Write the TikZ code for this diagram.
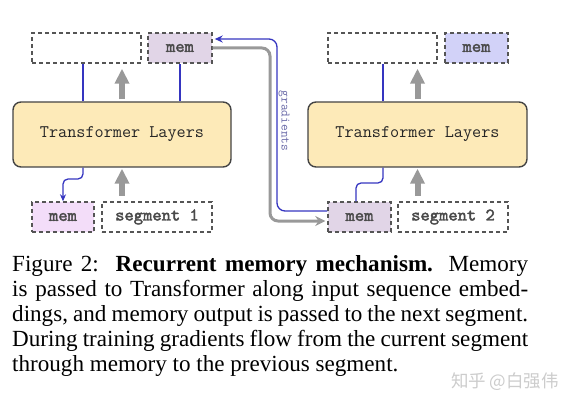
\documentclass[tikz,border=0pt]{standalone}
\usepackage{fontspec}
\setmainfont{Liberation Serif}
\newfontfamily\cjkfont{Noto Sans CJK SC}
\newfontfamily\monobold{lmmono10-regular.otf}[FakeBold=2.2]
\usetikzlibrary{arrows.meta,calc}
\definecolor{tfill}{HTML}{FDEAB8}
\definecolor{memA}{HTML}{E1D5E7}
\definecolor{memPink}{HTML}{F3DDF9}
\definecolor{memBlue}{HTML}{D2D2F8}
\definecolor{boxgray}{HTML}{555555}
\definecolor{txtgray}{HTML}{4A4A4A}
\definecolor{darkline}{HTML}{444444}
\definecolor{blueline}{HTML}{3535C0}
\definecolor{arrgray}{HTML}{999999}
\definecolor{gradtxt}{HTML}{6A6AA8}
\begin{document}
\begin{tikzpicture}[x=1pt,y=-1pt,
  dbox/.style={draw=boxgray, dash pattern=on 4pt off 3pt, line width=1.4pt,
    minimum height=30pt, inner sep=0pt, text=txtgray,
    font=\monobold\fontsize{17.7}{18}\selectfont},
  tlayer/.style={draw=darkline, fill=tfill, rounded corners=8pt, line width=1.4pt,
    minimum height=65pt, inner sep=0pt, text=black!85,
    font=\ttfamily\fontsize{17.7}{18}\selectfont},
  bluel/.style={draw=blueline, line width=1.3pt},
  bigarrow/.style={draw=arrgray, line width=6pt, -{Triangle[length=15pt,width=14pt]}},
  grayconn/.style={draw=arrgray, line width=3pt, -{Stealth[length=10pt,width=10pt]}},
]
\useasboundingbox (0,0) rectangle (575,406);

% nodes, left column
\node[dbox, minimum width=109pt] (out1) at (86.5,48) {};
\node[dbox, minimum width=64pt, fill=memA] (memout1) at (180,48) {mem};
\node[tlayer, minimum width=218pt] (tl1) at (122,134.5) {Transformer Layers};
\node[dbox, minimum width=62pt, fill=memPink] (memin1) at (63,217) {mem};
\node[dbox, minimum width=110pt] (seg1) at (157,217) {segment 1};

% nodes, right column
\node[dbox, minimum width=109pt] (out2) at (382.5,48) {};
\node[dbox, minimum width=63pt, fill=memBlue] (memout2) at (476.5,48) {mem};
\node[tlayer, minimum width=219pt] (tl2) at (417.5,134.5) {Transformer Layers};
\node[dbox, minimum width=63pt, fill=memA] (memin2) at (359.5,217) {mem};
\node[dbox, minimum width=110pt] (seg2) at (453,217) {segment 2};

% helper coordinates
\coordinate (b1) at (83,0);
\coordinate (b2) at (383,0);
\coordinate (c1) at (0,179);
\coordinate (c2) at (0,183);
\coordinate (gx) at (270,0);
\coordinate (gy) at (0,221);
\coordinate (bx) at (277,0);
\coordinate (by) at (0,211);
\coordinate (ty) at (0,39);
\coordinate (gyo) at (0,48);

% blue vertical links
\draw[bluel] (tl1.north -| b1) -- (out1.south -| b1);
\draw[bluel] (tl1.north -| memout1.south) -- (memout1.south);
\draw[bluel] (tl2.north -| b2) -- (out2.south -| b2);

% blue memory write curves
\draw[bluel, rounded corners=5pt, -{Stealth[length=7pt,width=6pt]}]
  (tl1.south -| b1) -- (b1 |- c1) -- (memin1.north |- c1) -- (memin1.north);
\draw[bluel, rounded corners=5pt]
  (tl2.south -| b2) -- (b2 |- c2) -- ([xshift=-3.5pt]memin2.north |- c2) -- ([xshift=-3.5pt]memin2.north);

% big gray arrows
\draw[bigarrow] ($(tl1.north)+(0,-2)$) -- ($(out1.south -| tl1.north)+(0,5)$);
\draw[bigarrow] ($(tl1.south)+(0,28)$) -- ($(tl1.south)+(0,1)$);
\draw[bigarrow] ($(tl2.north)+(0,-2)$) -- ($(out2.south -| tl2.north)+(0,5)$);
\draw[bigarrow] ($(tl2.south)+(0,28)$) -- ($(tl2.south)+(0,1)$);

% memory passing (gray) and gradients (blue)
\draw[grayconn, rounded corners=8pt, shorten >=2pt]
  (memout1.east |- gyo) -- (gx |- gyo) -- (gx |- gy) -- (memin2.west |- gy);
\draw[bluel, rounded corners=8pt, -{Stealth[length=8pt,width=7pt]}, shorten >=2pt]
  (memin2.west |- by) -- (bx |- by) -- (bx |- ty) -- (memout1.east |- ty);
\node[rotate=-90, text=gradtxt, font=\ttfamily\fontsize{13}{14}\selectfont, inner sep=0pt]
  (grad) at (284,121) {gradients};

% caption
\node[anchor=north west, align=left, inner sep=0pt,
  font=\fontsize{23.1}{25}\selectfont] (cap) at (12,255) {%
\makebox[516pt][s]{Figure 2:\ \ \textbf{Recurrent memory mechanism.} Memory}\\
\makebox[516pt][s]{is passed to Transformer along input sequence embed-}\\
\makebox[516pt][s]{dings, and memory output is passed to the next segment.}\\
\makebox[516pt][s]{During training gradients flow from the current segment}\\
through memory to the previous segment.};

% watermark
\node[text=black!20, font=\cjkfont\fontsize{17.5}{19}\selectfont, inner sep=0pt]
  (wm) at (505,382) {知乎 @白强伟};
\end{tikzpicture}
\end{document}
